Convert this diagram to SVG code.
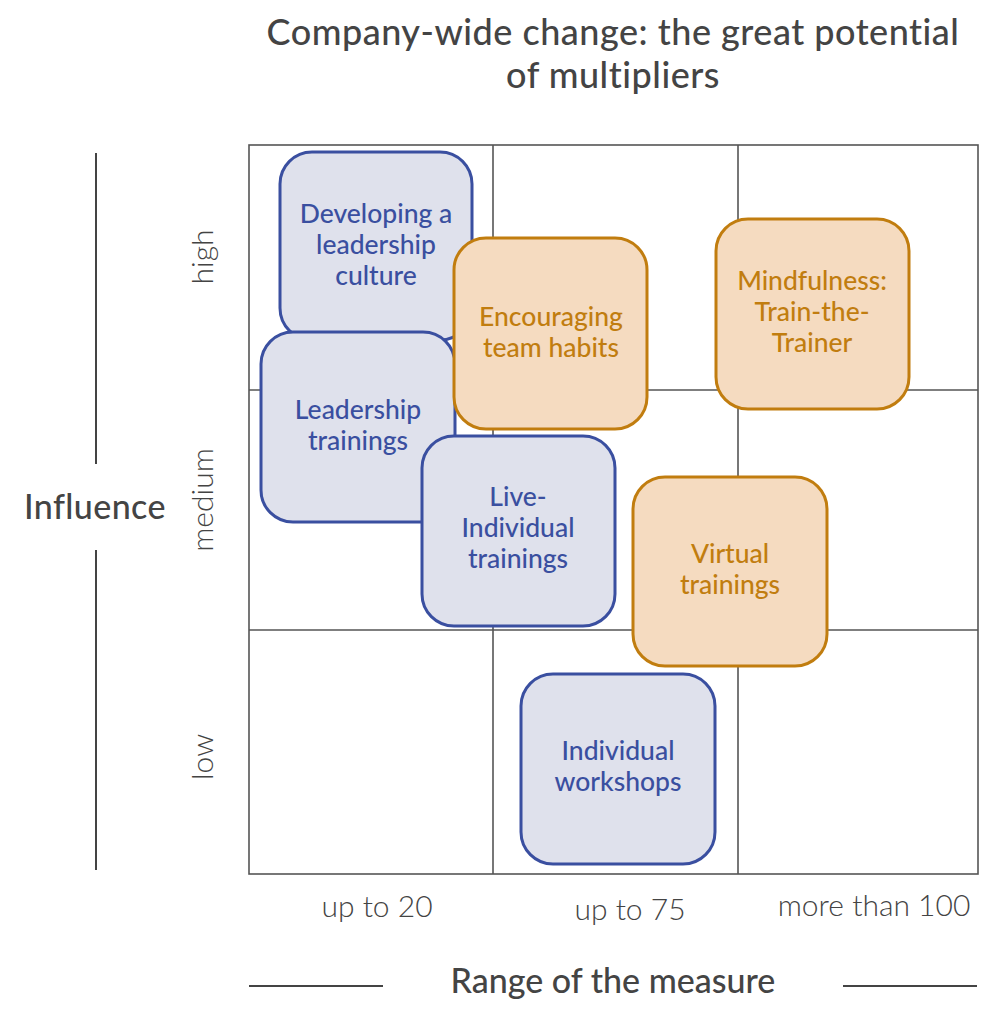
<svg xmlns="http://www.w3.org/2000/svg" width="1001" height="1024" viewBox="0 0 1001 1024">
<style>
.t{font-family:Lato,"Open Sans","Liberation Sans",sans-serif;fill:#444}
.title{font-size:36px;font-weight:500;text-anchor:middle;letter-spacing:0.5px}
.axis{font-size:34px;font-weight:500}
.tick{font-size:30px;font-weight:300;text-anchor:middle}
.grid{stroke:#555;stroke-width:1.6;fill:none}
.rule{stroke:#444;stroke-width:2}
.blue rect{fill:#dfe1ec;stroke:#3a4fa0;stroke-width:3}
.orange rect{fill:#f5dbc0;stroke:#c17d0f;stroke-width:3}
.lbl{font-family:Lato,"Open Sans","Liberation Sans",sans-serif;font-size:26.5px;font-weight:500;text-anchor:middle}
.blue text{fill:#3a4fa0}
.orange text{fill:#c17d0f}
</style>
<rect width="1001" height="1024" fill="#fff"/>
<text class="t title" x="613" y="45">Company-wide change: the great potential</text>
<text class="t title" x="613" y="88">of multipliers</text>
<g id="grid">
<rect class="grid" x="249" y="145" width="729" height="729"/>
<line class="grid" x1="493" y1="145" x2="493" y2="874"/>
<line class="grid" x1="738" y1="145" x2="738" y2="874"/>
<line class="grid" x1="249" y1="390" x2="978" y2="390"/>
<line class="grid" x1="249" y1="630" x2="978" y2="630"/>
</g>
<g id="axes">
<line class="rule" x1="96" y1="153" x2="96" y2="464"/>
<line class="rule" x1="96" y1="550" x2="96" y2="870"/>
<text class="t axis" x="24" y="519" font-size="30" letter-spacing="0.4">Influence</text>
<text class="t tick" transform="translate(213,257) rotate(-90)">high</text>
<text class="t tick" transform="translate(213,500) rotate(-90)">medium</text>
<text class="t tick" transform="translate(213,757) rotate(-90)">low</text>
<text class="t tick" x="377" y="917">up to 20</text>
<text class="t tick" x="630" y="920">up to 75</text>
<text class="t tick" x="874" y="916">more than 100</text>
<line class="rule" x1="249" y1="986" x2="383" y2="986"/>
<line class="rule" x1="843" y1="986" x2="977" y2="986"/>
<text class="t axis" x="613" y="993" text-anchor="middle">Range of the measure</text>
</g>
<g id="developing" class="blue">
<rect x="280" y="152" width="192" height="188" rx="32"/>
<text class="lbl" x="376" y="223">Developing a</text>
<text class="lbl" x="376" y="254">leadership</text>
<text class="lbl" x="376" y="285">culture</text>
</g>
<g id="leadership-trainings" class="blue">
<rect x="261" y="332" width="194" height="190" rx="32"/>
<text class="lbl" x="358" y="419">Leadership</text>
<text class="lbl" x="358" y="450">trainings</text>
</g>
<g id="encouraging" class="orange">
<rect x="454" y="238" width="193" height="191" rx="32"/>
<text class="lbl" x="551" y="326">Encouraging</text>
<text class="lbl" x="551" y="357">team habits</text>
</g>
<g id="mindfulness" class="orange">
<rect x="716" y="219" width="193" height="190" rx="32"/>
<text class="lbl" x="812" y="290">Mindfulness:</text>
<text class="lbl" x="812" y="321">Train-the-</text>
<text class="lbl" x="812" y="352">Trainer</text>
</g>
<g id="live-individual" class="blue">
<rect x="422" y="436" width="193" height="190" rx="32"/>
<text class="lbl" x="518" y="506">Live-</text>
<text class="lbl" x="518" y="537">Individual</text>
<text class="lbl" x="518" y="568">trainings</text>
</g>
<g id="virtual" class="orange">
<rect x="633" y="477" width="194" height="189" rx="32"/>
<text class="lbl" x="730" y="563">Virtual</text>
<text class="lbl" x="730" y="594">trainings</text>
</g>
<g id="workshops" class="blue">
<rect x="521" y="674" width="194" height="190" rx="32"/>
<text class="lbl" x="618" y="760">Individual</text>
<text class="lbl" x="618" y="791">workshops</text>
</g>
<g id="connectors"/>
</svg>
